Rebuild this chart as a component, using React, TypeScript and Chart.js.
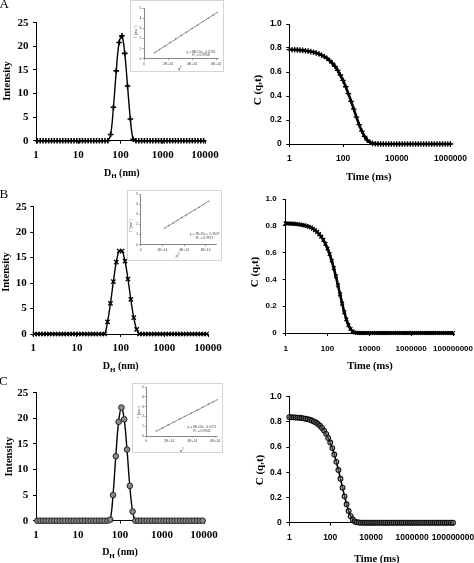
import React, { useEffect, useRef } from "react";
import { Chart, registerables } from "chart.js";

Chart.register(...registerables);

const W = 474;
const H = 563;
const SERIF = "'Liberation Serif', 'Times New Roman', serif";
const SANS = "'Liberation Sans', Arial, sans-serif";

// ---------- data: size distributions (left column) ----------
const diameters = [
  1.08, 1.259, 1.468, 1.711, 1.995, 2.326, 2.712, 3.162, 3.687, 4.299,
  5.012, 5.843, 6.813, 7.943, 9.261, 10.8, 12.59, 14.68, 17.11, 19.95,
  23.26, 27.12, 31.62, 36.87, 42.99, 50.12, 58.43, 68.13, 79.43, 92.61,
  108, 125.9, 146.8, 171.1, 199.5, 232.6, 271.2, 316.2, 368.7, 429.9,
  501.2, 584.3, 681.3, 794.3, 926.1, 1080, 1259, 1468, 1711, 1995,
  2326, 2712, 3162, 3687, 4299, 5012, 5843, 6813, 7943, 9261,
];
const intensityA = [
  0, 0, 0, 0, 0, 0, 0, 0, 0, 0,
  0, 0, 0, 0, 0, 0, 0, 0, 0, 0,
  0, 0, 0, 0, 0, 0, 1.3, 7.1, 14.8, 20.8,
  22.2, 18.5, 11.6, 4.6, 0.3, 0, 0, 0, 0, 0,
  0, 0, 0, 0, 0, 0, 0, 0, 0, 0,
  0, 0, 0, 0, 0, 0, 0, 0, 0, 0,
];
const intensityB = [
  0, 0, 0, 0, 0, 0, 0, 0, 0, 0,
  0, 0, 0, 0, 0, 0, 0, 0, 0, 0,
  0, 0, 0, 0, 0, 2.4, 6.0, 10.3, 14.1, 16.3,
  16.3, 14.3, 10.8, 6.8, 3.2, 0.9, 0, 0, 0, 0,
  0, 0, 0, 0, 0, 0, 0, 0, 0, 0,
  0, 0, 0, 0, 0, 0, 0, 0, 0, 0,
];
const intensityC = [
  0, 0, 0, 0, 0, 0, 0, 0, 0, 0,
  0, 0, 0, 0, 0, 0, 0, 0, 0, 0,
  0, 0, 0, 0, 0, 0, 0.2, 5.0, 12.6, 19.3,
  22.1, 19.8, 13.9, 6.8, 1.8, 0, 0, 0, 0, 0,
  0, 0, 0, 0, 0, 0, 0, 0, 0, 0,
  0, 0, 0, 0, 0, 0, 0, 0, 0, 0,
];
const sizeTicks = [1, 10, 100, 1000, 10000];

// ---------- data: correlation functions (right column) ----------
const lagTimes = [
  1, 1.259, 1.585, 1.995, 2.512, 3.162, 3.981, 5.012, 6.31, 7.943,
  10, 12.59, 15.85, 19.95, 25.12, 31.62, 39.81, 50.12, 63.1, 79.43,
  100, 125.9, 158.5, 199.5, 251.2, 316.2, 398.1, 501.2, 631, 794.3,
  1000, 1259, 1585, 1995, 2512, 3162, 3981, 5012, 6310, 7943,
  10000, 12590, 15850, 19950, 25120, 31620, 39810, 50120, 63100, 79430,
  100000, 125900, 158500, 199500, 251200, 316200, 398100, 501200, 631000, 794300,
  1000000, 1259000, 1585000, 1995000, 2512000, 3162000, 3981000, 5012000, 6310000, 7943000,
  10000000, 12590000, 15850000, 19950000, 25120000, 31620000, 39810000, 50120000, 63100000, 79430000,
  100000000,
];
const corrA = [
  0.787, 0.786, 0.785, 0.784, 0.782, 0.780, 0.777, 0.774, 0.770, 0.765,
  0.759, 0.751, 0.741, 0.729, 0.715, 0.696, 0.674, 0.647, 0.614, 0.575,
  0.530, 0.477, 0.419, 0.355, 0.291, 0.224, 0.161, 0.107, 0.063, 0.033,
  0.014, 0.005, 0.002, 0.001, 0, 0, 0, 0, 0, 0,
  0, 0, 0, 0, 0, 0, 0, 0, 0, 0,
  0, 0, 0, 0, 0, 0, 0, 0, 0, 0,
  0,
];
const corrB = [
  0.818, 0.817, 0.817, 0.816, 0.815, 0.813, 0.811, 0.809, 0.806, 0.803,
  0.799, 0.793, 0.787, 0.778, 0.768, 0.755, 0.738, 0.719, 0.695, 0.665,
  0.631, 0.589, 0.541, 0.484, 0.423, 0.356, 0.288, 0.219, 0.156, 0.101,
  0.059, 0.030, 0.013, 0.004, 0.001, 0, 0, 0, 0, 0,
  0, 0, 0, 0, 0, 0, 0, 0, 0, 0,
  0, 0, 0, 0, 0, 0, 0, 0, 0, 0,
  0, 0, 0, 0, 0, 0, 0, 0, 0, 0,
  0, 0, 0, 0, 0, 0, 0, 0, 0, 0,
  0,
];
const corrC = [
  0.838, 0.837, 0.836, 0.835, 0.834, 0.833, 0.831, 0.828, 0.825, 0.822,
  0.817, 0.811, 0.804, 0.795, 0.783, 0.769, 0.752, 0.731, 0.705, 0.673,
  0.636, 0.592, 0.541, 0.483, 0.418, 0.349, 0.278, 0.209, 0.146, 0.093,
  0.052, 0.025, 0.010, 0.003, 0.001, 0, 0, 0, 0, 0,
  0, 0, 0, 0, 0, 0, 0, 0, 0, 0,
  0, 0, 0, 0, 0, 0, 0, 0, 0, 0,
  0, 0, 0, 0, 0, 0, 0, 0, 0, 0,
  0, 0, 0, 0, 0, 0, 0, 0, 0, 0,
  0,
];
const timeTicksA = [1, 100, 10000, 1000000];
const timeTicksBC = [1, 100, 10000, 1000000, 100000000];

// ---------- data: insets (decay rate vs q^2, q^2 in units of 1E+14) ----------
const q2A = [0.89, 1.3, 1.75, 2.2, 2.65, 3.1, 3.55, 4.0, 4.45, 4.9, 5.35, 5.75, 6.1];
const gammaA = [0.6, 0.92, 1.26, 1.6, 1.95, 2.3, 2.64, 2.98, 3.33, 3.68, 4.02, 4.33, 4.6];
const q2B = [2.2, 2.6, 3.0, 3.4, 3.8, 4.2, 4.6, 5.0, 5.4, 5.8, 6.3];
const gammaB = [1.63, 1.89, 2.15, 2.41, 2.67, 2.93, 3.19, 3.45, 3.71, 3.97, 4.3];
const q2C = [0.87, 1.4, 1.9, 2.4, 2.9, 3.4, 3.9, 4.4, 4.9, 5.4, 5.8, 6.17];
const gammaC = [0.5, 0.82, 1.12, 1.42, 1.73, 2.03, 2.33, 2.63, 2.93, 3.24, 3.48, 3.7];
const q2Ticks = [0, 2, 4, 6];
const fitA = ["y = 8E-15x - 0.0741", "R² = 0.9958"];
const fitB = ["y = 7E-15x + 0.1637", "R² = 0.9917"];
const fitC = ["y = 6E-15x - 0.0271", "R² = 0.9942"];

// ---------- text helpers ----------
type Part = { t: string; sub?: boolean; sup?: boolean };
type Label = {
  parts: Part[];
  x: number;
  y: number;
  rot?: boolean;
  size: number;
  family?: string;
  weight?: string;
  color?: string;
  align?: "left" | "center";
};

function drawLabel(ctx: CanvasRenderingContext2D, l: Label) {
  ctx.save();
  const fam = l.family || SERIF;
  const wt = l.weight || "bold";
  const fontFor = (p: Part) => `${wt} ${p.sub || p.sup ? l.size * 0.7 : l.size}px ${fam}`;
  let total = 0;
  const widths = l.parts.map((p) => {
    ctx.font = fontFor(p);
    const w = ctx.measureText(p.t).width;
    total += w;
    return w;
  });
  ctx.translate(l.x, l.y);
  if (l.rot) ctx.rotate(-Math.PI / 2);
  let x = l.align === "left" ? 0 : -total / 2;
  ctx.textBaseline = "middle";
  ctx.textAlign = "left";
  ctx.fillStyle = l.color || "#000";
  l.parts.forEach((p, i) => {
    ctx.font = fontFor(p);
    const dy = p.sub ? l.size * 0.32 : p.sup ? -l.size * 0.32 : 0;
    ctx.fillText(p.t, x, dy);
    x += widths[i];
  });
  ctx.restore();
}

function decorPlugin(labels: Label[], bg?: string, frame?: string) {
  return {
    id: "decor",
    beforeDraw(chart: any) {
      if (!bg) return;
      const c = chart.ctx;
      c.save();
      c.fillStyle = bg;
      c.fillRect(0, 0, chart.width, chart.height);
      c.restore();
    },
    afterDraw(chart: any) {
      const c = chart.ctx;
      labels.forEach((l) => drawLabel(c, l));
      if (frame) {
        c.save();
        c.strokeStyle = frame;
        c.lineWidth = 1;
        c.strokeRect(0.5, 0.5, chart.width - 1, chart.height - 1);
        c.restore();
      }
    },
  };
}

// ---------- chart builders ----------
type Area = { l: number; t: number; r: number; b: number };
type MainSpec = {
  key: string;
  area: Area;
  xs: number[];
  ys: number[];
  xMin: number;
  xMax: number;
  xTicks: number[];
  yMax: number;
  yStep: number;
  tickFont: any;
  xPad: number;
  yPad: number;
  ds: any;
  labels: Label[];
};

const axisGrid = { display: true, drawOnChartArea: false, drawTicks: true, tickLength: 3, color: "#000", lineWidth: 1 };
const axisBorder = { display: true, color: "#000", width: 1 };

function buildMain(p: MainSpec) {
  const Wy = 30;
  const Hx = 25;
  return {
    type: "line",
    data: {
      datasets: [
        {
          data: p.ys.map((y, i) => ({ x: p.xs[i], y })),
          clip: false,
          fill: false,
          ...p.ds,
        },
      ],
    },
    options: {
      responsive: false,
      animation: false,
      devicePixelRatio: 1,
      events: [],
      layout: { padding: { left: p.area.l - Wy, top: p.area.t, right: W - p.area.r, bottom: H - p.area.b - Hx } },
      plugins: { legend: { display: false }, tooltip: { enabled: false }, title: { display: false } },
      scales: {
        x: {
          type: "logarithmic",
          min: p.xMin,
          max: p.xMax,
          afterBuildTicks: (s: any) => {
            s.ticks = p.xTicks.map((v) => ({ value: v }));
          },
          afterFit: (s: any) => {
            s.height = Hx;
            s.paddingLeft = 0;
            s.paddingRight = 0;
          },
          ticks: {
            autoSkip: false,
            maxRotation: 0,
            minRotation: 0,
            padding: p.xPad,
            color: "#000",
            font: p.tickFont,
            callback: (v: any) => String(v),
          },
          grid: axisGrid,
          border: axisBorder,
        },
        y: {
          type: "linear",
          min: 0,
          max: p.yMax,
          afterFit: (s: any) => {
            s.width = Wy;
            s.paddingTop = 0;
            s.paddingBottom = 0;
          },
          ticks: { stepSize: p.yStep, padding: p.yPad, color: "#000", font: p.tickFont },
          grid: axisGrid,
          border: axisBorder,
        },
      },
    },
    plugins: [decorPlugin(p.labels)],
  };
}

type InsetSpec = {
  key: string;
  box: { left: number; top: number; width: number; height: number };
  area: Area;
  xs: number[];
  ys: number[];
  xMax: number;
  xPad: number;
  labels: Label[];
};

function buildInset(p: InsetSpec) {
  const Wy = 10;
  const Hx = 8;
  const g = { display: true, drawOnChartArea: false, drawTicks: true, tickLength: 1.5, color: "#555", lineWidth: 0.6 };
  const bd = { display: true, color: "#555", width: 0.7 };
  const f = { family: SANS, size: 3.4 };
  return {
    type: "line",
    data: {
      datasets: [
        {
          data: p.ys.map((y, i) => ({ x: p.xs[i], y })),
          borderColor: "#777",
          borderWidth: 0.8,
          pointRadius: 0.7,
          pointBackgroundColor: "#666",
          pointBorderWidth: 0,
          tension: 0,
          fill: false,
        },
      ],
    },
    options: {
      responsive: false,
      animation: false,
      devicePixelRatio: 1,
      events: [],
      layout: {
        padding: {
          left: p.area.l - Wy,
          top: p.area.t,
          right: p.box.width - p.area.r,
          bottom: p.box.height - p.area.b - Hx,
        },
      },
      plugins: { legend: { display: false }, tooltip: { enabled: false } },
      scales: {
        x: {
          type: "linear",
          min: 0,
          max: p.xMax,
          afterBuildTicks: (s: any) => {
            s.ticks = q2Ticks.map((v) => ({ value: v }));
          },
          afterFit: (s: any) => {
            s.height = Hx;
            s.paddingLeft = 0;
            s.paddingRight = 0;
          },
          ticks: {
            autoSkip: false,
            maxRotation: 0,
            minRotation: 0,
            padding: p.xPad,
            color: "#444",
            font: f,
            callback: (v: any) => (v === 0 ? "0" : `${v}E+14`),
          },
          grid: g,
          border: bd,
        },
        y: {
          type: "linear",
          min: 0,
          max: 5,
          afterFit: (s: any) => {
            s.width = Wy;
            s.paddingTop = 0;
            s.paddingBottom = 0;
          },
          ticks: { stepSize: 1, padding: 1, color: "#444", font: f },
          grid: g,
          border: bd,
        },
      },
    },
    plugins: [decorPlugin(p.labels, "#fff", "#d4d4d4")],
  };
}

// ---------- panel specs ----------
const leftFont = { family: SERIF, size: 11, weight: "bold" };
const rightFont = { family: SANS, size: 8.5, weight: "bold" };
const rightFontSmall = { family: SANS, size: 8, weight: "bold" };

const dhLabel = (x: number, y: number): Label => ({
  parts: [{ t: "D" }, { t: "H", sub: true }, { t: " (nm)" }],
  x,
  y,
  size: 10,
});
const intLabel = (x: number, y: number): Label => ({ parts: [{ t: "Intensity" }], x, y, rot: true, size: 10.5 });
const timeLabel = (x: number, y: number): Label => ({ parts: [{ t: "Time (ms)" }], x, y, size: 10.5 });
const cqtLabel = (x: number, y: number): Label => ({ parts: [{ t: "C (q,t)" }], x, y, rot: true, size: 11 });
const letter = (t: string, x: number, y: number): Label => ({
  parts: [{ t }],
  x,
  y,
  size: 13,
  weight: "normal",
  align: "left",
});

const lineLeft = { borderColor: "#000", borderWidth: 1.4, tension: 0.4, pointBorderColor: "#000", pointBackgroundColor: "#000" };
const lineRight = { borderColor: "#000", borderWidth: 2.6, tension: 0, pointBorderColor: "#000", pointBackgroundColor: "#000" };

const mainPanels: MainSpec[] = [
  {
    key: "A1",
    area: { l: 36, t: 22.7, r: 205, b: 140.7 },
    xs: diameters,
    ys: intensityA,
    xMin: 1,
    xMax: 10000,
    xTicks: sizeTicks,
    yMax: 25,
    yStep: 5,
    tickFont: leftFont,
    xPad: 4.5,
    yPad: 4.5,
    ds: { ...lineLeft, pointStyle: "cross", pointRadius: 2.8, pointBorderWidth: 1.6 },
    labels: [dhLabel(121.8, 173), intLabel(7.3, 81), letter("A", -0.5, 5)],
  },
  {
    key: "A2",
    area: { l: 289.3, t: 24, r: 450.5, b: 144 },
    xs: lagTimes,
    ys: corrA,
    xMin: 1,
    xMax: 1000000,
    xTicks: timeTicksA,
    yMax: 1,
    yStep: 0.2,
    tickFont: rightFont,
    xPad: 7,
    yPad: 4.6,
    ds: { ...lineRight, pointStyle: "cross", pointRadius: 2.8, pointBorderWidth: 1.3 },
    labels: [timeLabel(368.7, 177.3), cqtLabel(258.3, 90)],
  },
  {
    key: "B1",
    area: { l: 33.3, t: 206.7, r: 208, b: 334 },
    xs: diameters,
    ys: intensityB,
    xMin: 1,
    xMax: 10000,
    xTicks: sizeTicks,
    yMax: 25,
    yStep: 5,
    tickFont: leftFont,
    xPad: 4.5,
    yPad: 3.6,
    ds: { ...lineLeft, pointStyle: "crossRot", pointRadius: 3, pointBorderWidth: 1.4 },
    labels: [dhLabel(120.7, 366.7), intLabel(6.7, 272), letter("B", -0.5, 195)],
  },
  {
    key: "B2",
    area: { l: 285.7, t: 199, r: 453, b: 333 },
    xs: lagTimes,
    ys: corrB,
    xMin: 1,
    xMax: 100000000,
    xTicks: timeTicksBC,
    yMax: 1,
    yStep: 0.2,
    tickFont: rightFontSmall,
    xPad: 7.5,
    yPad: 6,
    ds: { ...lineRight, pointStyle: "crossRot", pointRadius: 2.6, pointBorderWidth: 1.3 },
    labels: [timeLabel(370, 366.7), cqtLabel(255, 272)],
  },
  {
    key: "C1",
    area: { l: 36, t: 392.7, r: 204, b: 520.7 },
    xs: diameters,
    ys: intensityC,
    xMin: 1,
    xMax: 10000,
    xTicks: sizeTicks,
    yMax: 25,
    yStep: 5,
    tickFont: leftFont,
    xPad: 4.5,
    yPad: 4.7,
    ds: {
      ...lineLeft,
      pointStyle: "circle",
      pointRadius: 2.8,
      pointBorderWidth: 1,
      pointBorderColor: "#222",
      pointBackgroundColor: "#8a8a8a",
    },
    labels: [dhLabel(120, 552.7), intLabel(9, 456.7), letter("C", -1, 382)],
  },
  {
    key: "C2",
    area: { l: 289.3, t: 396.7, r: 453, b: 522.7 },
    xs: lagTimes,
    ys: corrC,
    xMin: 1,
    xMax: 100000000,
    xTicks: timeTicksBC,
    yMax: 1,
    yStep: 0.2,
    tickFont: rightFont,
    xPad: 6.5,
    yPad: 4.6,
    ds: {
      ...lineRight,
      pointStyle: "circle",
      pointRadius: 2.4,
      pointBorderWidth: 1.1,
      pointBorderColor: "#111",
      pointBackgroundColor: "rgba(120,120,120,0.5)",
      borderWidth: 1.6,
    },
    labels: [timeLabel(376.7, 559), cqtLabel(260, 470)],
  },
];

const insetText = (t: string, x: number, y: number): Label => ({
  parts: [{ t }],
  x,
  y,
  size: 3.3,
  family: SANS,
  weight: "normal",
  color: "#444",
});
const gammaLabel = (x: number, y: number): Label => ({
  parts: [{ t: "Γ (ms" }, { t: "-1", sup: true }, { t: ")" }],
  x,
  y,
  rot: true,
  size: 3.6,
  family: SANS,
  weight: "normal",
  color: "#444",
});
const q2Label = (x: number, y: number): Label => ({
  parts: [{ t: "q" }, { t: "2", sup: true }],
  x,
  y,
  size: 4,
  family: SANS,
  weight: "normal",
  color: "#444",
});

const insets: InsetSpec[] = [
  {
    key: "iA",
    box: { left: 130, top: 0, width: 94, height: 72 },
    area: { l: 14, t: 8.3, r: 88.4, b: 58.7 },
    xs: q2A,
    ys: gammaA,
    xMax: 6.2,
    xPad: 1.5,
    labels: [gammaLabel(5.7, 31.7), q2Label(49.7, 69), insetText(fitA[0], 71, 51.7), insetText(fitA[1], 71, 55.3)],
  },
  {
    key: "iB",
    box: { left: 127, top: 190, width: 95, height: 71 },
    area: { l: 13.7, t: 2.7, r: 89.5, b: 54.7 },
    xs: q2B,
    ys: gammaB,
    xMax: 7,
    xPad: 1.5,
    labels: [gammaLabel(3.7, 35.3), q2Label(50.3, 66), insetText(fitB[0], 77.7, 43.7), insetText(fitB[1], 77.7, 47.7)],
  },
  {
    key: "iC",
    box: { left: 132, top: 383, width: 91, height: 70 },
    area: { l: 14.3, t: 3, r: 85.6, b: 53 },
    xs: q2C,
    ys: gammaC,
    xMax: 6.2,
    xPad: 2,
    labels: [gammaLabel(7, 29), q2Label(49.6, 67.5), insetText(fitC[0], 70, 44), insetText(fitC[1], 70, 48)],
  },
];

function ChartCanvas({ build, left, top, width, height }: any) {
  const ref = useRef<HTMLCanvasElement>(null);
  useEffect(() => {
    const chart = new Chart(ref.current as HTMLCanvasElement, build() as any);
    return () => chart.destroy();
  }, []);
  return (
    <canvas
      ref={ref}
      width={width}
      height={height}
      style={{ position: "absolute", left, top, width, height, display: "block" }}
    />
  );
}

export default function App() {
  return (
    <div
      style={{
        position: "fixed",
        left: 0,
        top: 0,
        width: W,
        height: H,
        background: "#fff",
        overflow: "hidden",
      }}
    >
      {mainPanels.map((p) => (
        <ChartCanvas key={p.key} build={() => buildMain(p)} left={0} top={0} width={W} height={H} />
      ))}
      {insets.map((p) => (
        <ChartCanvas
          key={p.key}
          build={() => buildInset(p)}
          left={p.box.left}
          top={p.box.top}
          width={p.box.width}
          height={p.box.height}
        />
      ))}
    </div>
  );
}
